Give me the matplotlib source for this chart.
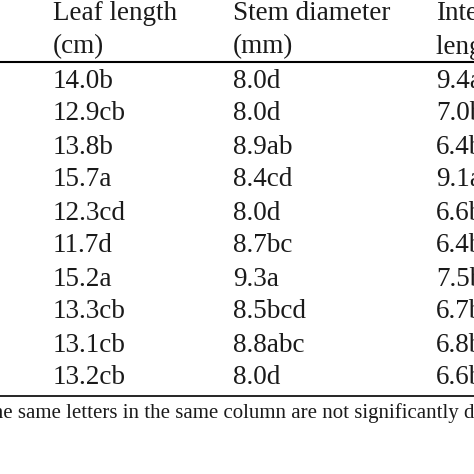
import matplotlib.pyplot as plt

header1 = ['Leaf length', 'Stem diameter', 'Internode']
header2 = ['(cm)', '(mm)', 'length (cm)']
leaf_length = ['14.0b', '12.9cb', '13.8b', '15.7a', '12.3cd', '11.7d', '15.2a', '13.3cb', '13.1cb', '13.2cb']
stem_diameter = ['8.0d', '8.0d', '8.9ab', '8.4cd', '8.0d', '8.7bc', '9.3a', '8.5bcd', '8.8abc', '8.0d']
internode = ['9.4a', '7.0b', '6.4b', '9.1a', '6.6b', '6.4b', '7.5b', '6.7b', '6.8b', '6.6b']
footnote = 'Means followed by the same letters in the same column are not significantly different'

fig = plt.figure(figsize=(4.74, 4.74), dpi=100)
fig.patch.set_facecolor('white')
W, H = 474, 474
font = dict(family='Liberation Serif', color='#1a1a1a')

def put(x, y, s, size=19.5, **kw):
    fig.text(x / W, 1 - y / H, s, fontsize=size, va='center', ha='left', **font, **kw)

xs = [53, 233, 436]
for x, a, b in zip(xs, header1, header2):
    put(x, 14, a)
    put(x, 47, b)

fig.add_artist(plt.Line2D([0, 1], [1 - 62 / H] * 2, color='black', lw=1.5))

for i, row in enumerate(zip(leaf_length, stem_diameter, internode)):
    y = 81 + i * 33
    for x, s in zip(xs, row):
        put(x, y, s)

fig.add_artist(plt.Line2D([0, 1], [1 - 396 / H] * 2, color='black', lw=1.2))
put(-180, 413, footnote, size=15)

fig.savefig('out.png', dpi=100)
